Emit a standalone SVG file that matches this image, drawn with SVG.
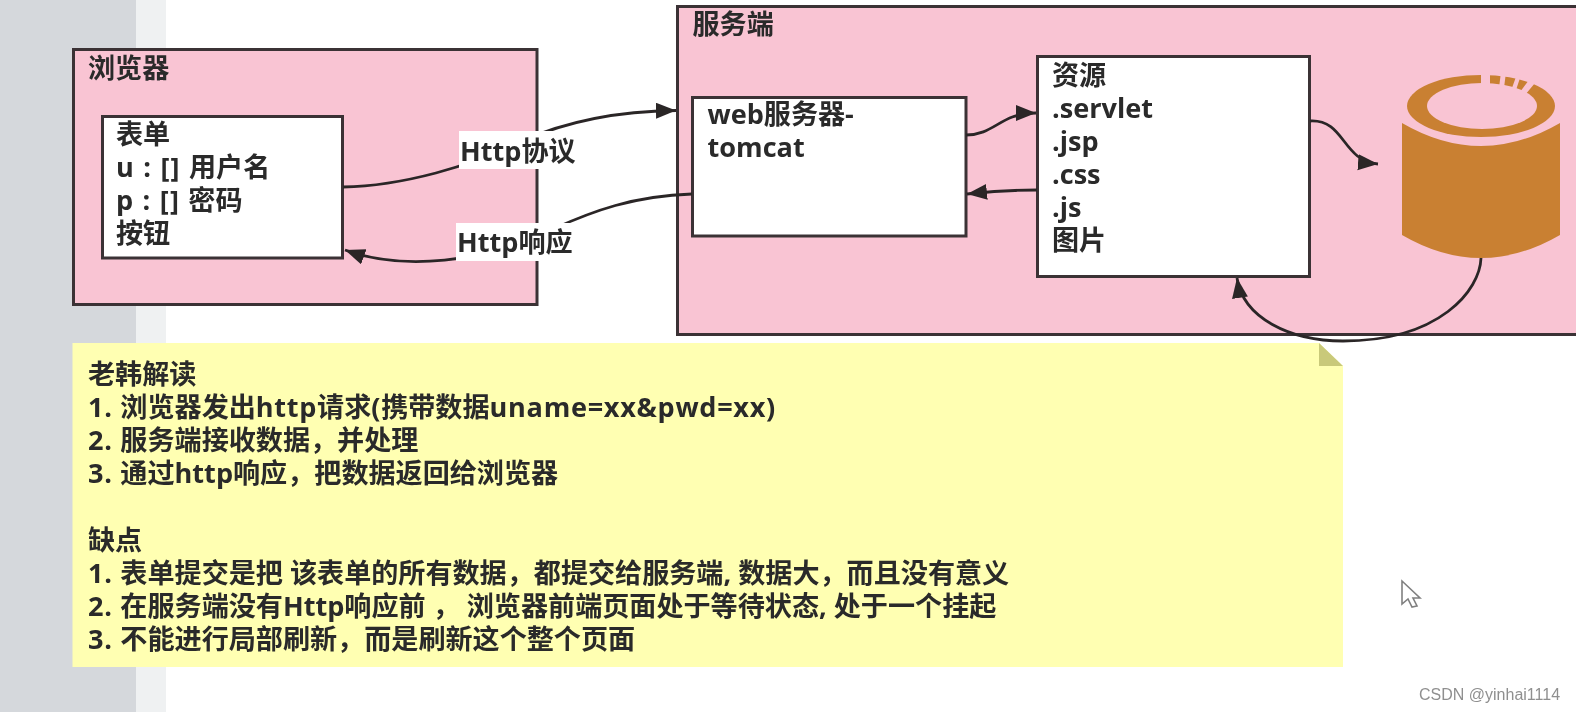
<svg xmlns="http://www.w3.org/2000/svg" width="1576" height="712" viewBox="0 0 1576 712">
<style>
.box{stroke:#3a3336;stroke-width:3}
.pink{fill:#f9c4d3}
.white{fill:#fff}
.cyl{fill:#c98033}
text{font-family:"Open Sans","Noto Sans CJK SC",sans-serif;font-weight:700;font-size:27.100px;fill:#2a2a2a}
.wide{letter-spacing:.7px}
.wider{letter-spacing:1.200px}
.conn{fill:none;stroke:#2b2528;stroke-width:2.800}
.wm{font-family:"Liberation Sans",sans-serif;font-weight:400;font-size:16px;fill:#8f8f8f}
</style>
<defs>
<marker id="arr" markerUnits="userSpaceOnUse" markerWidth="22" markerHeight="18" refX="20" refY="8" orient="auto"><path d="M0,0L20,8L0,16z" fill="#2b2528"/></marker>
<filter id="soft" x="-2%" y="-2%" width="104%" height="104%"><feGaussianBlur stdDeviation="0.5"/></filter>
</defs>
<rect width="1576" height="712" fill="#fff"/>
<rect width="136" height="712" fill="#d5d8dc"/>
<rect x="136" width="30" height="712" fill="#eff1f2"/>
<g filter="url(#soft)">
<g id="browser">
<rect class="box pink" x="73.500" y="49.500" width="463.500" height="255"/>
<text x="88" y="78">浏览器</text>
</g>
<g id="form">
<rect class="box white" x="102.500" y="116.500" width="240" height="141.500"/>
<text x="116" y="144">表单</text>
<text x="116" y="177"><tspan class="wider">u : [] </tspan>用户名</text>
<text x="116" y="210"><tspan class="wider">p : [] </tspan>密码</text>
<text x="116" y="243">按钮</text>
</g>
<g id="server">
<rect class="box pink" x="677.500" y="6.500" width="905" height="328"/>
<text x="692.500" y="34">服务端</text>
</g>
<g id="tomcat">
<rect class="box white" x="692.500" y="97.500" width="273.500" height="138.500"/>
<text x="707.500" y="124">web服务器-</text>
<text x="707.500" y="157">tomcat</text>
</g>
<g id="resources">
<rect class="box white" x="1037.500" y="56.500" width="272" height="220"/>
<text x="1052" y="85">资源</text>
<text x="1052" y="118">.servlet</text>
<text x="1052" y="151">.jsp</text>
<text x="1052" y="184">.css</text>
<text x="1052" y="217">.js</text>
<text x="1052" y="250">图片</text>
</g>
<g id="database">
<path class="cyl" d="M1402,123Q1481,169 1560,123L1560,235Q1481,281 1402,235z"/>
<ellipse class="cyl" cx="1481" cy="106" rx="74" ry="31"/>
<ellipse class="pink" cx="1482" cy="106" rx="55" ry="23"/>
<path class="pink" d="M1481,72h9v14h-9zM1501,72h5l-2,16h-5zM1517,74l4,1l-5,15l-4,-2zM1529,80l6,3l-10,12l-5,-3z"/>
</g>
<g id="note">
<path d="M72.500,343H1319L1343,366V667H72.500z" fill="#ffffb2"/>
<path d="M1319,343L1343,366H1319z" fill="#c9c97a"/>
<text x="88" y="384">老韩解读</text>
<text x="88" y="417"><tspan class="wide">1. </tspan>浏览器发出<tspan class="wide">http</tspan>请求<tspan class="wide">(</tspan>携带数据<tspan class="wide">uname=xx&amp;pwd=xx)</tspan></text>
<text x="88" y="450"><tspan class="wide">2. </tspan>服务端接收数据，并处理</text>
<text x="88" y="483"><tspan class="wide">3. </tspan>通过http响应，把数据返回给浏览器</text>
<text x="88" y="550">缺点</text>
<text x="88" y="583"><tspan class="wide">1. </tspan>表单提交是把 该表单的所有数据，都提交给服务端, 数据大，而且没有意义</text>
<text x="88" y="616"><tspan class="wide">2. </tspan>在服务端没有Http响应前 ， 浏览器前端页面处于等待状态, 处于一个挂起</text>
<text x="88" y="649"><tspan class="wide">3. </tspan>不能进行局部刷新，而是刷新这个整个页面</text>
</g>
<g id="connectors">
<path class="conn" marker-end="url(#arr)" d="M343,187C402,186 472,166 522,141C572,119 623,111 676,110.500"/>
<path class="conn" marker-end="url(#arr)" d="M692,194C633,196 593,211 553,229C483,263 403,271 345,250"/>
<path class="conn" marker-end="url(#arr)" d="M966,135C995,135 1000,113 1036,113"/>
<path class="conn" marker-end="url(#arr)" d="M1037,190C1015,190 995,191 967,194"/>
<path class="conn" marker-end="url(#arr)" d="M1310,121C1345,119 1342,161 1378,164"/>
<path class="conn" marker-end="url(#arr)" d="M1481,258C1480,290 1440,341 1343,341C1290,341 1243,318 1237,278"/>
</g>
<g id="label-request">
<rect x="459" y="131" width="120" height="38" fill="#fff"/>
<text x="460" y="161">Http协议</text>
</g>
<g id="label-response">
<rect x="456" y="223" width="119" height="38" fill="#fff"/>
<text x="457" y="252">Http响应</text>
</g>
<path id="cursor" d="M1402,581L1420,598H1413L1417,606L1412,607L1408,599L1402,604z" fill="#fff" stroke="#808080" stroke-width="1.6"/>
<text class="wm" x="1419" y="700">CSDN @yinhai1114</text>
</g>
</svg>
